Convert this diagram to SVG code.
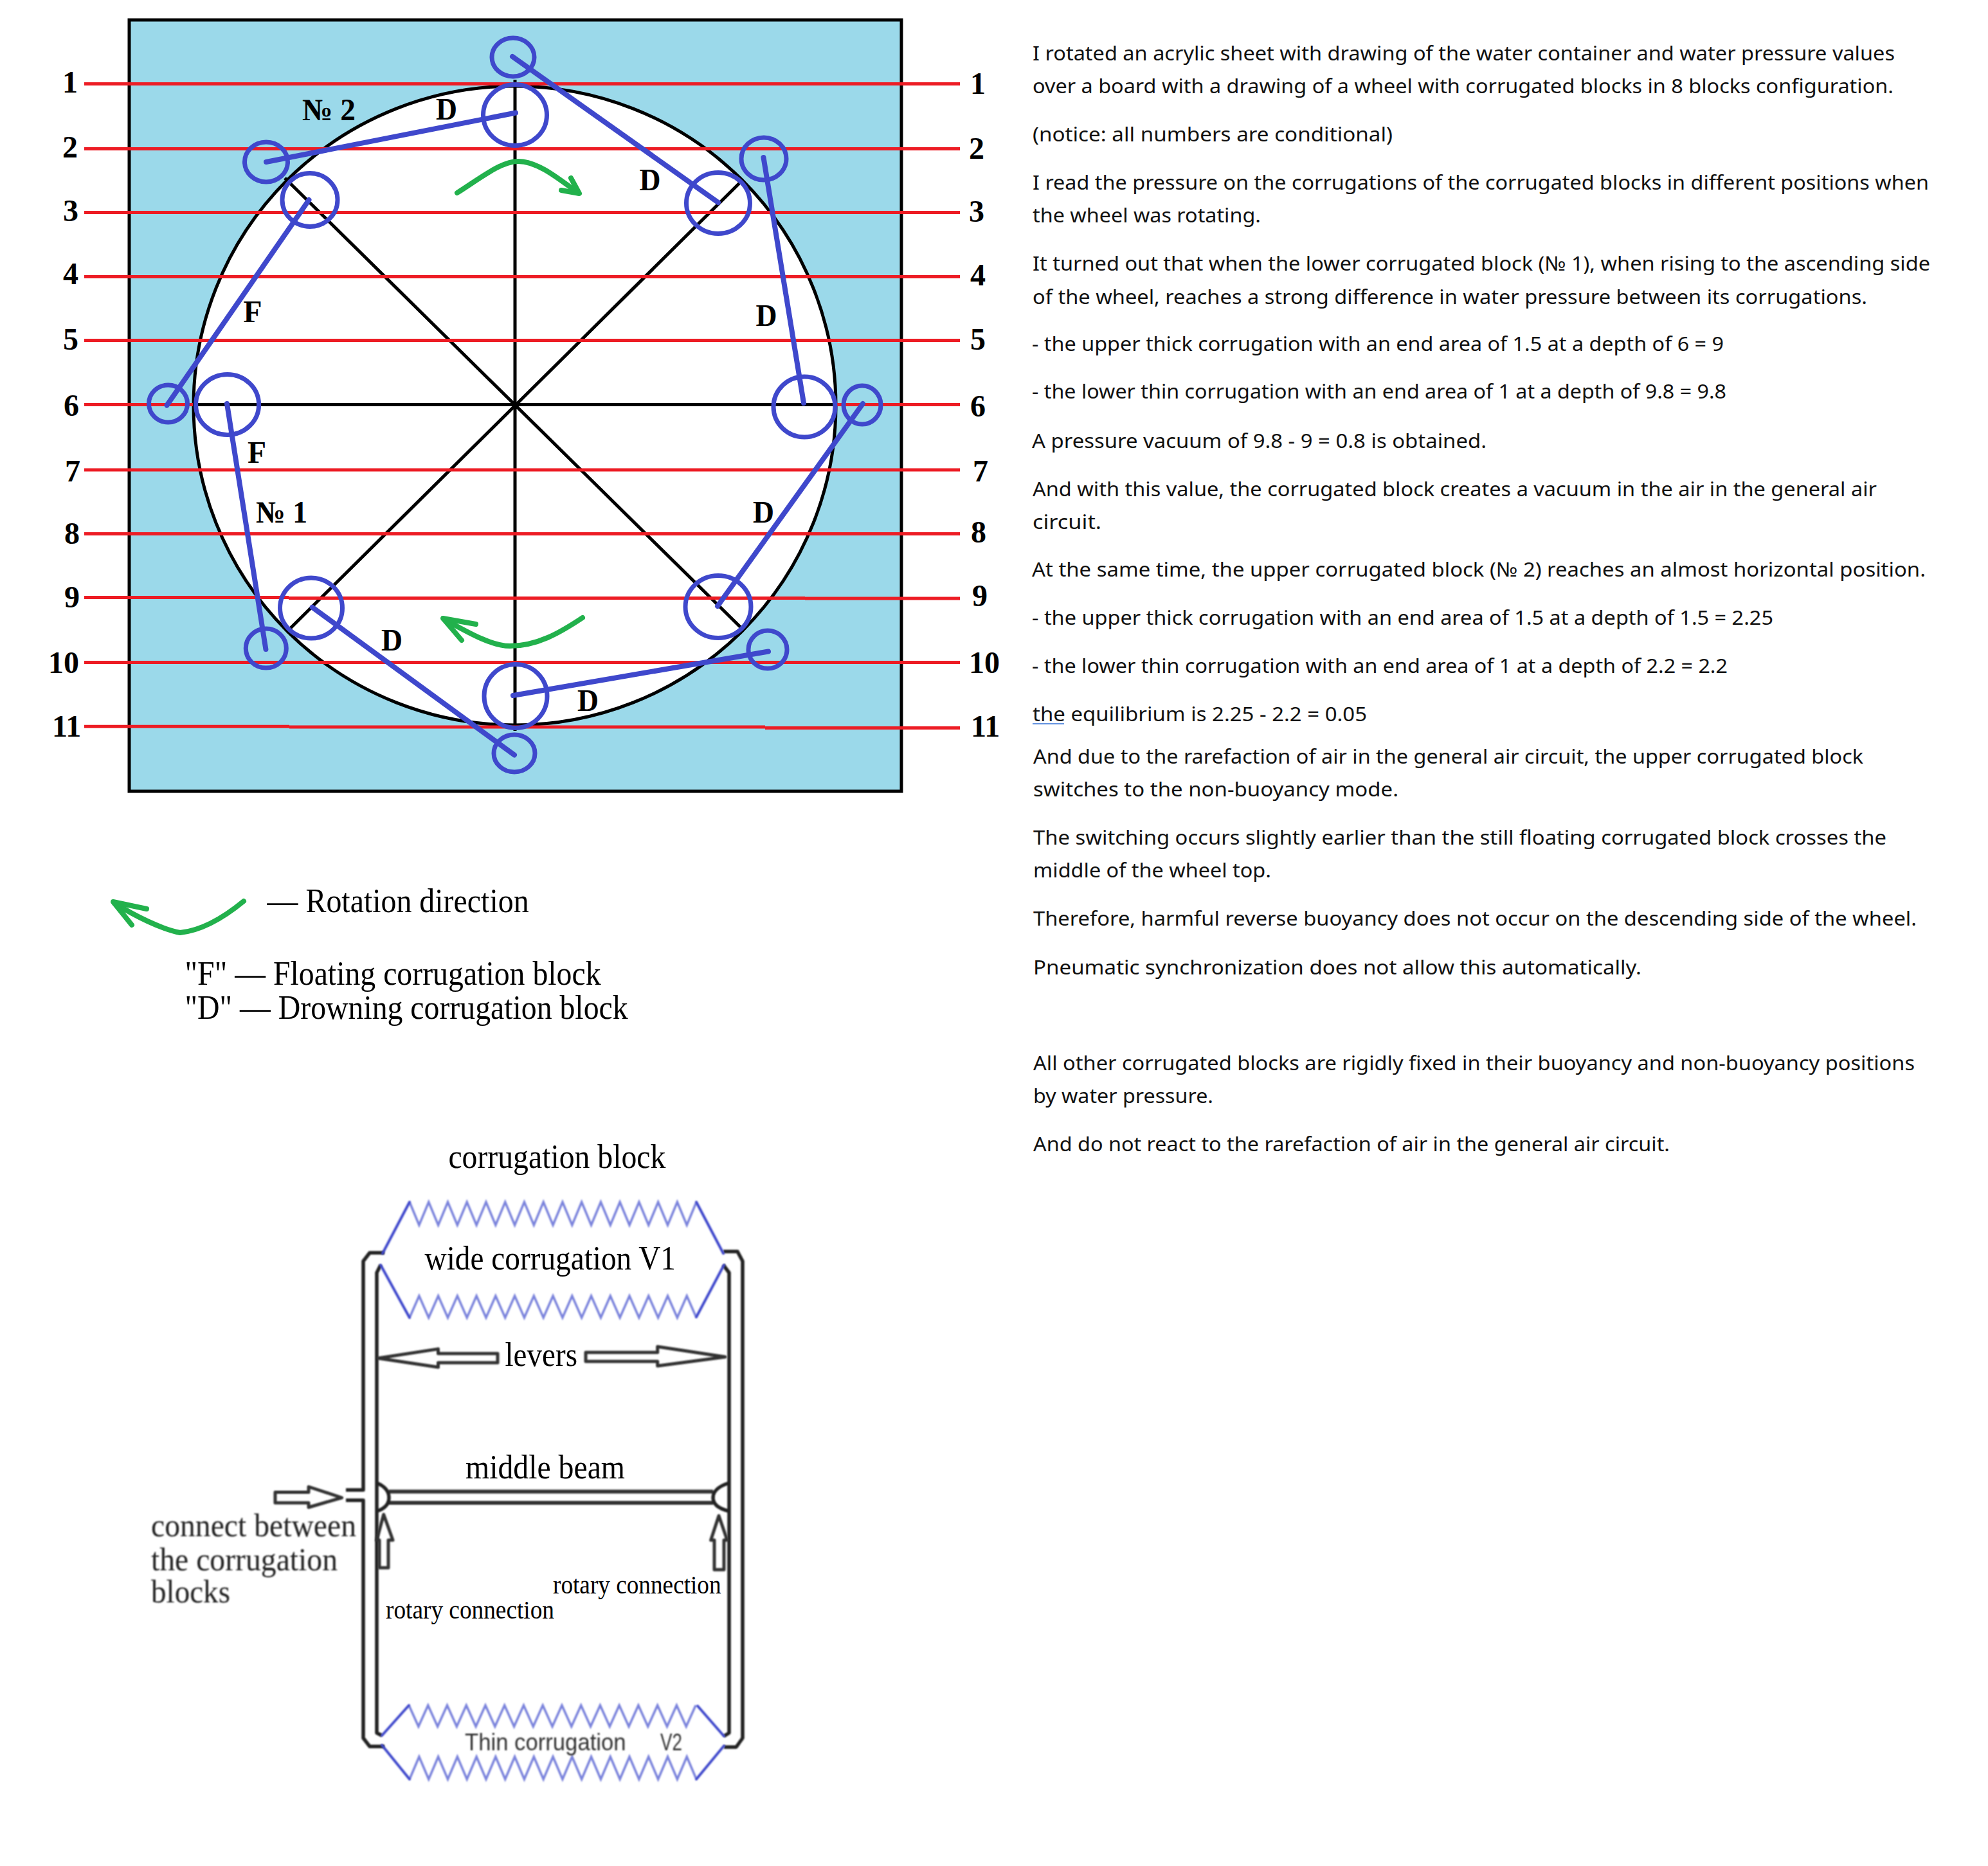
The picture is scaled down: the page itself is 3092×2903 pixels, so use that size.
<svg xmlns="http://www.w3.org/2000/svg" width="3092" height="2903" viewBox="0 0 3092 2903">
<style>
.red{stroke:#ed1c24;stroke-width:5;fill:none}
.spoke{stroke:#000;stroke-width:5;fill:none}
.blue{stroke:#3f48cc;stroke-width:7;fill:none;stroke-linecap:round}
.blueL{stroke:#3f48cc;stroke-width:8;fill:none;stroke-linecap:round}
.green{stroke:#22b14c;stroke-width:8;fill:none;stroke-linecap:round;stroke-linejoin:round}
.num{font-family:"Liberation Serif",serif;font-weight:bold;font-size:48px;fill:#000}
.lab{font-family:"Liberation Serif",serif;font-weight:bold;font-size:48px;fill:#000}
.ser{font-family:"Liberation Serif",serif;font-size:53px;fill:#000}
.ser2{font-family:"Liberation Serif",serif;font-size:40px;fill:#000}
.blur{font-family:"Liberation Serif",serif;font-size:50px;fill:#222}
.thin{font-family:"Liberation Sans",Arial,sans-serif;font-size:36px;fill:#333}
.body{font-family:"Noto Sans",sans-serif;font-size:31px;fill:#111}
.frame{stroke:#222;stroke-width:5.500;fill:none;stroke-linejoin:round}
.arr{stroke:#333;stroke-width:5;fill:none;stroke-linejoin:round}
.beam{stroke:#333;stroke-width:6;fill:none}
.zig{stroke:#7a83dc;stroke-width:3.5;fill:none;stroke-linejoin:miter}
.zigd{stroke:#3f48cc;stroke-width:4;fill:none;stroke-linecap:round}
</style>
<defs><filter id="soft" x="-5%" y="-5%" width="110%" height="110%"><feGaussianBlur stdDeviation="0.9"/></filter>
<filter id="softer" x="-5%" y="-20%" width="110%" height="140%"><feGaussianBlur stdDeviation="1.2"/></filter></defs>
<rect width="3092" height="2903" fill="#fff"/>

<g id="wheel-diagram">
<rect id="tank" x="201" y="31" width="1201" height="1200" fill="#9bd9ea" stroke="#000" stroke-width="5"/>
<ellipse id="wheel" cx="800.5" cy="631" rx="499.5" ry="497" fill="#fff" stroke="#000" stroke-width="5"/>
<g id="spokes">
<path class="spoke" d="M801 124V1137M302 629.5H1300M443 277L1152 976M1150 285L451 978"/>
</g>
<g id="pressure-lines">
<path class="red" d="M131 130.6H1493M131 231.4H1493M131 330.6H1493M131 430.6H1493M131 529.4H1493M131 629.4H300M1302 629.4H1493M131 731H1493M131 830.6H1493M131 1030.6H1493"/>
<path class="red" d="M131 929.5H449M449 930.4H1252M1252 931H1493M131 1130.3H450M450 1131H1190M1190 1132.6H1493"/>
</g>
<g id="rotation-top"><path class="green" d="M711 300C750 275 780 251 806 251C835 251 865 275 899 300"/><path class="green" d="M888 277L901 301L873 296"/></g>
<g id="rotation-bottom"><path class="green" d="M906 961C870 985 835 1005 793 1005C765 1005 730 985 690 963"/><path class="green" d="M740 971L689 962L718 996"/></g>
<g id="blocks">
<g id="block-top"><ellipse class="blue" cx="798" cy="89" rx="33" ry="30"/><ellipse class="blue" cx="1117" cy="316" rx="49.5" ry="47.5"/><path class="blueL" d="M797 88L1117 315"/></g>
<g id="block-no2"><ellipse class="blue" cx="414" cy="252" rx="33.5" ry="31"/><ellipse class="blue" cx="801" cy="179" rx="49.5" ry="47.5"/><path class="blueL" d="M414 252L802 175.5"/></g>
<g id="block-upper-left"><ellipse class="blue" cx="482" cy="311" rx="43" ry="41.5"/><ellipse class="blue" cx="261.5" cy="628" rx="30" ry="29"/><path class="blueL" d="M480.5 311L259.6 630.6"/></g>
<g id="block-right"><ellipse class="blue" cx="1188" cy="247" rx="35" ry="33"/><ellipse class="blue" cx="1251" cy="633" rx="48" ry="47"/><path class="blueL" d="M1187.5 245L1250 627"/></g>
<g id="block-lower-right"><ellipse class="blue" cx="1341" cy="630" rx="29" ry="30"/><ellipse class="blue" cx="1117" cy="944" rx="51" ry="48.5"/><path class="blueL" d="M1342 628L1116 943"/></g>
<g id="block-bottom"><ellipse class="blue" cx="1194" cy="1010.6" rx="30" ry="29.5"/><ellipse class="blue" cx="802" cy="1083" rx="49" ry="49.5"/><path class="blueL" d="M1195 1013.5L798 1082"/></g>
<g id="block-lower-left"><ellipse class="blue" cx="800" cy="1172" rx="32" ry="29"/><ellipse class="blue" cx="484" cy="946" rx="48.5" ry="47"/><path class="blueL" d="M800 1174.5L485.7 944.7"/></g>
<g id="block-no1"><ellipse class="blue" cx="413.8" cy="1008.6" rx="31.5" ry="30.5"/><ellipse class="blue" cx="353.6" cy="629.4" rx="49" ry="47"/><path class="blueL" d="M353 628L413.4 1010"/></g>
</g>
<g id="labels">
<text class="lab" x="470" y="187" textLength="83" lengthAdjust="spacingAndGlyphs">№ 2</text>
<text class="lab" x="398" y="812.5" textLength="80" lengthAdjust="spacingAndGlyphs">№ 1</text>
<text class="lab" x="678" y="186" textLength="33" lengthAdjust="spacingAndGlyphs">D</text>
<text class="lab" x="378.5" y="501" textLength="29" lengthAdjust="spacingAndGlyphs">F</text>
<text class="lab" x="385" y="720" textLength="29" lengthAdjust="spacingAndGlyphs">F</text>
<text class="lab" x="994.6" y="296.4" textLength="33" lengthAdjust="spacingAndGlyphs">D</text>
<text class="lab" x="1175.6" y="507" textLength="33" lengthAdjust="spacingAndGlyphs">D</text>
<text class="lab" x="1171" y="812.6" textLength="33" lengthAdjust="spacingAndGlyphs">D</text>
<text class="lab" x="898" y="1106" textLength="33" lengthAdjust="spacingAndGlyphs">D</text>
<text class="lab" x="593" y="1012.4" textLength="33" lengthAdjust="spacingAndGlyphs">D</text>
</g>
<g id="depth-left">
<text class="num" x="97" y="144">1</text><text class="num" x="97" y="245">2</text><text class="num" x="98" y="344">3</text><text class="num" x="98" y="442">4</text><text class="num" x="98" y="544">5</text><text class="num" x="99" y="647">6</text><text class="num" x="101" y="749">7</text><text class="num" x="100" y="846">8</text><text class="num" x="100" y="945">9</text><text class="num" x="75" y="1047">10</text><text class="num" x="81" y="1146">11</text>
</g>
<g id="depth-right">
<text class="num" x="1509" y="146">1</text><text class="num" x="1507" y="247">2</text><text class="num" x="1507" y="345">3</text><text class="num" x="1509" y="444">4</text><text class="num" x="1509" y="544">5</text><text class="num" x="1509" y="648">6</text><text class="num" x="1513" y="749">7</text><text class="num" x="1510" y="844">8</text><text class="num" x="1512" y="943">9</text><text class="num" x="1507" y="1047">10</text><text class="num" x="1510" y="1146">11</text>
</g>
</g>

<g id="legend">
<path class="green" d="M379 1402C345 1430 310 1448 280 1451C250 1445 210 1425 178 1405"/><path class="green" d="M228 1414L176 1403L205 1439"/>
<text class="ser" x="415.6" y="1419" textLength="407" lengthAdjust="spacingAndGlyphs">— Rotation direction</text>
<text class="ser" x="287.6" y="1532" textLength="647" lengthAdjust="spacingAndGlyphs">"F" — Floating corrugation block</text>
<text class="ser" x="287.6" y="1585" textLength="689" lengthAdjust="spacingAndGlyphs">"D" — Drowning corrugation block</text>
</g>

<g id="corrugation-block">
<g id="frame" filter="url(#soft)">
<path class="frame" d="M598 1949H575L565 1962V2318H538M538 2334H565V2704L575 2717H598"/>
<path class="frame" d="M592 1968L586 1980V2696L594 2700"/>
<path class="frame" d="M1125 1947H1147L1155 1962V2704L1145 2718H1126"/>
<path class="frame" d="M1125 1968L1134 1980V2696L1126 2701"/>
<path class="beam" d="M605 2320.6H1109M605 2338H1109"/>
<path class="frame" d="M586 2307Q605 2315 605 2330Q605 2345 586 2351M1134 2307Q1109 2315 1109 2330Q1109 2345 1134 2351"/>
</g>
<g id="corrugations" filter="url(#soft)">
<path class="zig" d="M637 1870l14.87 36 14.87-36 14.87 36 14.87-36 14.87 36 14.87-36 14.87 36 14.87-36 14.87 36 14.87-36 14.87 36 14.87-36 14.87 36 14.87-36 14.87 36 14.87-36 14.87 36 14.87-36 14.87 36 14.87-36 14.87 36 14.87-36 14.87 36 14.87-36 14.87 36 14.87-36 14.87 36 14.87-36 14.87 36 14.87-36"/>
<path class="zig" d="M637 2050l14.87-34 14.87 34 14.87-34 14.87 34 14.87-34 14.87 34 14.87-34 14.87 34 14.87-34 14.87 34 14.87-34 14.87 34 14.87-34 14.87 34 14.87-34 14.87 34 14.87-34 14.87 34 14.87-34 14.87 34 14.87-34 14.87 34 14.87-34 14.87 34 14.87-34 14.87 34 14.87-34 14.87 34 14.87-34 14.87 34"/>
<path class="zig" d="M636 2653l14.87 33 14.87-33 14.87 33 14.87-33 14.87 33 14.87-33 14.87 33 14.87-33 14.87 33 14.87-33 14.87 33 14.87-33 14.87 33 14.87-33 14.87 33 14.87-33 14.87 33 14.87-33 14.87 33 14.87-33 14.87 33 14.87-33 14.87 33 14.87-33 14.87 33 14.87-33 14.87 33 14.87-33 14.87 33 14.87-33"/>
<path class="zig" d="M637 2768l14.87-35 14.87 35 14.87-35 14.87 35 14.87-35 14.87 35 14.87-35 14.87 35 14.87-35 14.87 35 14.87-35 14.87 35 14.87-35 14.87 35 14.87-35 14.87 35 14.87-35 14.87 35 14.87-35 14.87 35 14.87-35 14.87 35 14.87-35 14.87 35 14.87-35 14.87 35 14.87-35 14.87 35 14.87-35 14.87 35"/>
<path class="zigd" d="M595 1950L637 1870M1083 1870L1125 1950M592 1968L637 2050M1083 2049L1126 1968M594 2700L636 2653M1085 2654L1126 2701M594 2715L637 2768M1083 2768L1126 2716"/>
</g>
<g id="arrows" filter="url(#soft)">
<path class="arr" d="M588 2113L681.500 2098.600V2105.700H774V2120H681.500V2127Z"/>
<path class="arr" d="M1128 2111L1022.700 2095V2104H911V2118H1022.700V2125Z"/>
<path class="arr" d="M531.600 2330L480 2313V2321.600H428V2338H480V2345Z"/>
<path class="arr" d="M596.700 2356L586 2396H590V2439H604V2396H611Z"/>
<path class="arr" d="M1118 2358L1105.600 2396H1111V2442H1126V2396H1131Z"/>
</g>
<text class="ser" x="697.400" y="1817" textLength="338" lengthAdjust="spacingAndGlyphs">corrugation block</text>
<text class="ser" x="660.500" y="1975" textLength="390.500" lengthAdjust="spacingAndGlyphs">wide corrugation V1</text>
<text class="ser" x="785.500" y="2125" textLength="112.500" lengthAdjust="spacingAndGlyphs">levers</text>
<text class="ser" x="724" y="2300" textLength="248" lengthAdjust="spacingAndGlyphs">middle beam</text>
<g filter="url(#softer)">
<text class="blur" x="235" y="2390" textLength="319" lengthAdjust="spacingAndGlyphs">connect between</text>
<text class="blur" x="235" y="2443" textLength="290" lengthAdjust="spacingAndGlyphs">the corrugation</text>
<text class="blur" x="235" y="2493" textLength="123" lengthAdjust="spacingAndGlyphs">blocks</text>
<text class="thin" x="723" y="2723" textLength="250.600" lengthAdjust="spacingAndGlyphs">Thin corrugation</text>
<text class="thin" x="1027" y="2723" textLength="34" lengthAdjust="spacingAndGlyphs">V2</text>
</g>
<text class="ser2" x="860" y="2479" textLength="261.600" lengthAdjust="spacingAndGlyphs">rotary connection</text>
<text class="ser2" x="600" y="2518" textLength="262" lengthAdjust="spacingAndGlyphs">rotary connection</text>
</g>

<g id="description">
<text class="body" x="1606" y="94" textLength="1341" lengthAdjust="spacingAndGlyphs">I rotated an acrylic sheet with drawing of the water container and water pressure values</text>
<text class="body" x="1606" y="145" textLength="1339" lengthAdjust="spacingAndGlyphs">over a board with a drawing of a wheel with corrugated blocks in 8 blocks configuration.</text>
<text class="body" x="1606" y="220" textLength="560" lengthAdjust="spacingAndGlyphs">(notice: all numbers are conditional)</text>
<text class="body" x="1606" y="295" textLength="1394" lengthAdjust="spacingAndGlyphs">I read the pressure on the corrugations of the corrugated blocks in different positions when</text>
<text class="body" x="1606" y="346" textLength="355" lengthAdjust="spacingAndGlyphs">the wheel was rotating.</text>
<text class="body" x="1606" y="421" textLength="1396" lengthAdjust="spacingAndGlyphs">It turned out that when the lower corrugated block (№ 1), when rising to the ascending side</text>
<text class="body" x="1606" y="473" textLength="1298" lengthAdjust="spacingAndGlyphs">of the wheel, reaches a strong difference in water pressure between its corrugations.</text>
<text class="body" x="1605" y="546" textLength="1076" lengthAdjust="spacingAndGlyphs">- the upper thick corrugation with an end area of 1.5 at a depth of 6 = 9</text>
<text class="body" x="1605" y="620" textLength="1080" lengthAdjust="spacingAndGlyphs">- the lower thin corrugation with an end area of 1 at a depth of 9.8 = 9.8</text>
<text class="body" x="1605" y="696.500" textLength="707" lengthAdjust="spacingAndGlyphs">A pressure vacuum of 9.8 - 9 = 0.8 is obtained.</text>
<text class="body" x="1606" y="771.600" textLength="1313" lengthAdjust="spacingAndGlyphs">And with this value, the corrugated block creates a vacuum in the air in the general air</text>
<text class="body" x="1606" y="822.600" textLength="107" lengthAdjust="spacingAndGlyphs">circuit.</text>
<text class="body" x="1605" y="897" textLength="1390" lengthAdjust="spacingAndGlyphs">At the same time, the upper corrugated block (№ 2) reaches an almost horizontal position.</text>
<text class="body" x="1605" y="972" textLength="1153" lengthAdjust="spacingAndGlyphs">- the upper thick corrugation with an end area of 1.5 at a depth of 1.5 = 2.25</text>
<text class="body" x="1605" y="1047" textLength="1082" lengthAdjust="spacingAndGlyphs">- the lower thin corrugation with an end area of 1 at a depth of 2.2 = 2.2</text>
<text class="body" x="1606" y="1122" textLength="520" lengthAdjust="spacingAndGlyphs">the equilibrium is 2.25 - 2.2 = 0.05</text>
<path d="M1606 1126H1655" stroke="#2f6fd6" stroke-width="1.500" fill="none"/>
<text class="body" x="1607" y="1188" textLength="1291" lengthAdjust="spacingAndGlyphs">And due to the rarefaction of air in the general air circuit, the upper corrugated block</text>
<text class="body" x="1607" y="1239" textLength="568" lengthAdjust="spacingAndGlyphs">switches to the non-buoyancy mode.</text>
<text class="body" x="1607" y="1314" textLength="1327" lengthAdjust="spacingAndGlyphs">The switching occurs slightly earlier than the still floating corrugated block crosses the</text>
<text class="body" x="1607" y="1365" textLength="370" lengthAdjust="spacingAndGlyphs">middle of the wheel top.</text>
<text class="body" x="1607" y="1440" textLength="1374" lengthAdjust="spacingAndGlyphs">Therefore, harmful reverse buoyancy does not occur on the descending side of the wheel.</text>
<text class="body" x="1607" y="1515.500" textLength="946" lengthAdjust="spacingAndGlyphs">Pneumatic synchronization does not allow this automatically.</text>
<text class="body" x="1607" y="1665" textLength="1371" lengthAdjust="spacingAndGlyphs">All other corrugated blocks are rigidly fixed in their buoyancy and non-buoyancy positions</text>
<text class="body" x="1607" y="1716" textLength="280" lengthAdjust="spacingAndGlyphs">by water pressure.</text>
<text class="body" x="1607" y="1791" textLength="990" lengthAdjust="spacingAndGlyphs">And do not react to the rarefaction of air in the general air circuit.</text>
</g>
</svg>
